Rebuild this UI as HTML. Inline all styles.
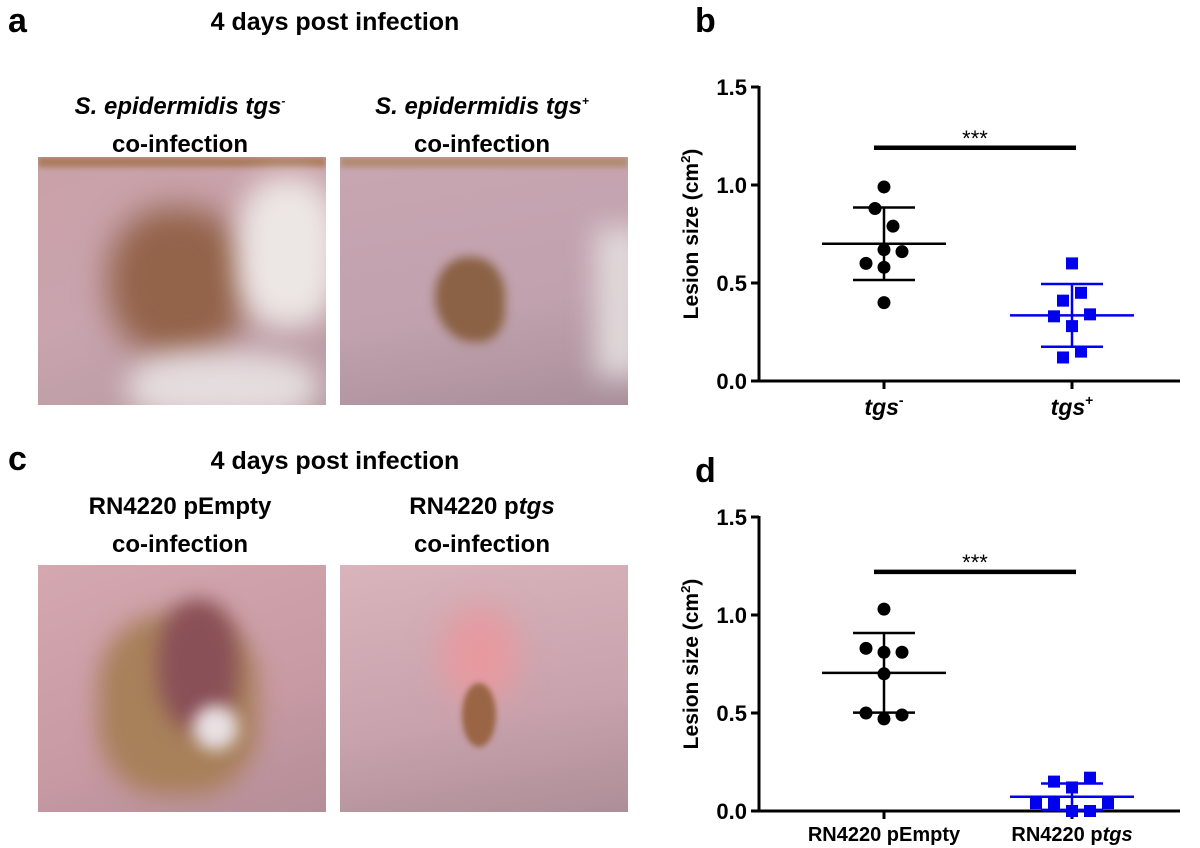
<!DOCTYPE html>
<html><head><meta charset="utf-8"><style>
body{margin:0;width:1200px;height:848px;background:#fff;font-family:"Liberation Sans",Arial,sans-serif;overflow:hidden;position:relative}
.t{position:absolute;font-weight:bold;color:#000;text-align:center;white-space:nowrap}
.lab{position:absolute;font-weight:bold;font-size:34px}
.ph{position:absolute;overflow:hidden}
</style></head><body>
<div class="lab" style="left:8px;top:2px">a</div>
<div class="lab" style="left:695px;top:2px">b</div>
<div class="lab" style="left:8px;top:440px">c</div>
<div class="lab" style="left:695px;top:452px">d</div>
<div class="t" style="left:180px;width:310px;top:8px;font-size:25px">4 days post infection</div>
<div class="t" style="left:180px;width:310px;top:447px;font-size:25px">4 days post infection</div>
<div class="t" style="left:30px;width:300px;top:82px;font-size:24px;line-height:38px"><i>S. epidermidis tgs<sup style="font-size:12px">-</sup></i><br>co-infection</div>
<div class="t" style="left:332px;width:300px;top:82px;font-size:24px;line-height:38px"><i>S. epidermidis tgs<sup style="font-size:12px">+</sup></i><br>co-infection</div>
<div class="t" style="left:30px;width:300px;top:488px;font-size:24px;line-height:38px">RN4220 pEmpty<br>co-infection</div>
<div class="t" style="left:332px;width:300px;top:488px;font-size:24px;line-height:38px">RN4220 p<i>tgs</i><br>co-infection</div>

<div class="ph" style="left:38px;top:157px;width:288px;height:248px;background:linear-gradient(160deg,#c9a1a8,#c9a4ae 50%,#b69aa2)">
<div style="position:absolute;left:0;top:0;width:288px;height:10px;background:#a97a5a;filter:blur(3px)"></div>
<div style="position:absolute;left:70px;top:50px;width:140px;height:150px;border-radius:45%;background:#93634a;filter:blur(16px)"></div>
<div style="position:absolute;left:200px;top:20px;width:100px;height:150px;border-radius:40%;background:#ece6e4;filter:blur(14px)"></div>
<div style="position:absolute;left:90px;top:195px;width:190px;height:70px;border-radius:40%;background:#e4dcde;filter:blur(14px)"></div>
</div>
<div class="ph" style="left:340px;top:157px;width:288px;height:248px;background:linear-gradient(170deg,#c8a6b2,#c0a1ad 60%,#a98f9a)">
<div style="position:absolute;left:0;top:0;width:288px;height:10px;background:#b08a70;filter:blur(3px)"></div>
<div style="position:absolute;left:95px;top:100px;width:70px;height:85px;border-radius:50% 50% 40% 60%;background:#8b6245;filter:blur(5px)"></div>
<div style="position:absolute;left:255px;top:70px;width:50px;height:150px;background:#e0d8da;filter:blur(14px)"></div>
</div>
<div class="ph" style="left:38px;top:565px;width:288px;height:247px;background:linear-gradient(160deg,#d4a8b0,#c89aa4 60%,#b48e98)">
<div style="position:absolute;left:60px;top:50px;width:160px;height:180px;border-radius:40%;background:#a8805a;filter:blur(12px)"></div>
<div style="position:absolute;left:120px;top:35px;width:80px;height:130px;border-radius:45%;background:#8a5058;filter:blur(10px)"></div>
<div style="position:absolute;left:155px;top:140px;width:45px;height:45px;border-radius:50%;background:#e8e0e4;filter:blur(8px)"></div>
</div>
<div class="ph" style="left:340px;top:565px;width:288px;height:247px;background:linear-gradient(170deg,#d9b4bc,#c8a2ac 60%,#ad8e98)">
<div style="position:absolute;left:100px;top:40px;width:80px;height:100px;border-radius:50%;background:#e69aa0;filter:blur(16px)"></div>
<div style="position:absolute;left:122px;top:118px;width:34px;height:64px;border-radius:50%;background:#9a6545;filter:blur(3px)"></div>
</div>

<svg id="chart" width="1200" height="848" style="position:absolute;left:0;top:0"></svg>
<script>
const yTicks=[0,0.5,1.0,1.5];
const yTickLabels=["0.0","0.5","1.0","1.5"];
const bCategories=["tgs-","tgs+"];
const bBlackVals=[0.99,0.88,0.79,0.67,0.66,0.60,0.58,0.40];
const bBlackOff=[0,-1,1,0,2,-2,0,0];
const bBlueVals=[0.60,0.45,0.41,0.33,0.34,0.28,0.15,0.12];
const bBlueOff=[0,1,-1,-2,2,0,1,-1];
const bMean=[0.70,0.335];
const bSD=[0.185,0.16];
const bSig=1.19;
const dCategories=["RN4220 pEmpty","RN4220 ptgs"];
const dBlackVals=[1.03,0.83,0.81,0.81,0.70,0.50,0.47,0.49];
const dBlackOff=[0,-2,0,2,0,-2,0,2];
const dBlueVals=[0.15,0.12,0.17,0.04,0.04,0.04,0.0,0.0];
const dBlueOff=[-2,0,2,-4,-2,4,0,2];
const dMean=[0.705,0.073];
const dSD=[0.203,0.067];
const dSig=1.22;

const svg=document.getElementById('chart');
const NS='http://www.w3.org/2000/svg';
function el(t,a,p){const e=document.createElementNS(NS,t);for(const k in a)e.setAttribute(k,a[k]);(p||svg).appendChild(e);return e;}
function panel(top,name,cats,bv,bo,uv,uo,mean,sd,sig,italic){
  const y0=top+311, ppu=196, xl=759, xr=1180, cx=[884,1072];
  const y=v=>y0-v*ppu;
  const g=el('g',{});
  
  
  let a=el('line',{x1:xl,y1:y(1.5)-1,x2:xl,y2:y0+1.5,stroke:'#000','stroke-width':3},g);
  
  a=el('line',{x1:xl-1.5,y1:y0,x2:xr,y2:y0,stroke:'#000','stroke-width':3},g);
  
  yTicks.forEach((t,i)=>{
    const tk=el('line',{x1:xl-8,y1:y(t),x2:xl,y2:y(t),stroke:'#000','stroke-width':3},g);
    
    const tx=el('text',{x:xl-12,y:y(t)+8,'text-anchor':'end','font-size':22,'font-weight':'bold'},g);
    
    tx.textContent=yTickLabels[i];
  });
  const yt=el('text',{transform:`translate(698,${y(0.75)}) rotate(-90)`,'text-anchor':'middle','font-size':21,'font-weight':'bold'},g);
  
  yt.innerHTML='Lesion size (cm<tspan dy="-8" font-size="13">2</tspan><tspan dy="8">)</tspan>';
  cats.forEach((c,i)=>{
    const tk=el('line',{x1:cx[i],y1:y0,x2:cx[i],y2:y0+8,stroke:'#000','stroke-width':3},g);
    
    const tx=el('text',{x:cx[i],y:y0+(italic?34:30),'text-anchor':'middle','font-size':italic?23:20,'font-weight':'bold'},g);
    
    if(italic){tx.innerHTML='<tspan font-style="italic">tgs</tspan><tspan dy="-10" font-size="14">'+c.slice(3)+'</tspan>';}
    else if(c.endsWith('ptgs')){tx.innerHTML='RN4220 p<tspan font-style="italic">tgs</tspan>';}
    else tx.textContent=c;
  });
  const groups=[[bv,bo,'#000','circle'],[uv,uo,'#0000ee','square']];
  groups.forEach((gr,i)=>{
    const col=gr[2];
    gr[0].forEach((v,j)=>{
      const px=cx[i]+gr[1][j]*9, py=y(v);
      let m;
      if(gr[3]==='circle') m=el('circle',{cx:px,cy:py,r:6.5,fill:col},g);
      else m=el('rect',{x:px-6,y:py-6,width:12,height:12,fill:col},g);
      
      
    });
    const ln=(x1,y1,x2,y2,n)=>{const l=el('line',{x1,y1,x2,y2,stroke:col,'stroke-width':2.5},g);};
    ln(cx[i]-62,y(mean[i]),cx[i]+62,y(mean[i]),'mean-line');
    ln(cx[i],y(mean[i]+sd[i]),cx[i],y(mean[i]-sd[i]),'error-bar');
    ln(cx[i]-31,y(mean[i]+sd[i]),cx[i]+31,y(mean[i]+sd[i]),'error-cap-top');
    ln(cx[i]-31,y(mean[i]-sd[i]),cx[i]+31,y(mean[i]-sd[i]),'error-cap-bottom');
  });
  const s=el('line',{x1:cx[0]-10,y1:y(sig),x2:cx[1]+4,y2:y(sig),stroke:'#000','stroke-width':4.5},g);
  
  const st=el('text',{x:(cx[0]+cx[1])/2-3,y:y(sig)-2,'text-anchor':'middle','font-size':22},g);
  
  st.textContent='***';
}
panel(70,'chart-b',bCategories,bBlackVals,bBlackOff,bBlueVals,bBlueOff,bMean,bSD,bSig,true);
panel(500,'chart-d',dCategories,dBlackVals,dBlackOff,dBlueVals,dBlueOff,dMean,dSD,dSig,false);
</script>
</body></html>
